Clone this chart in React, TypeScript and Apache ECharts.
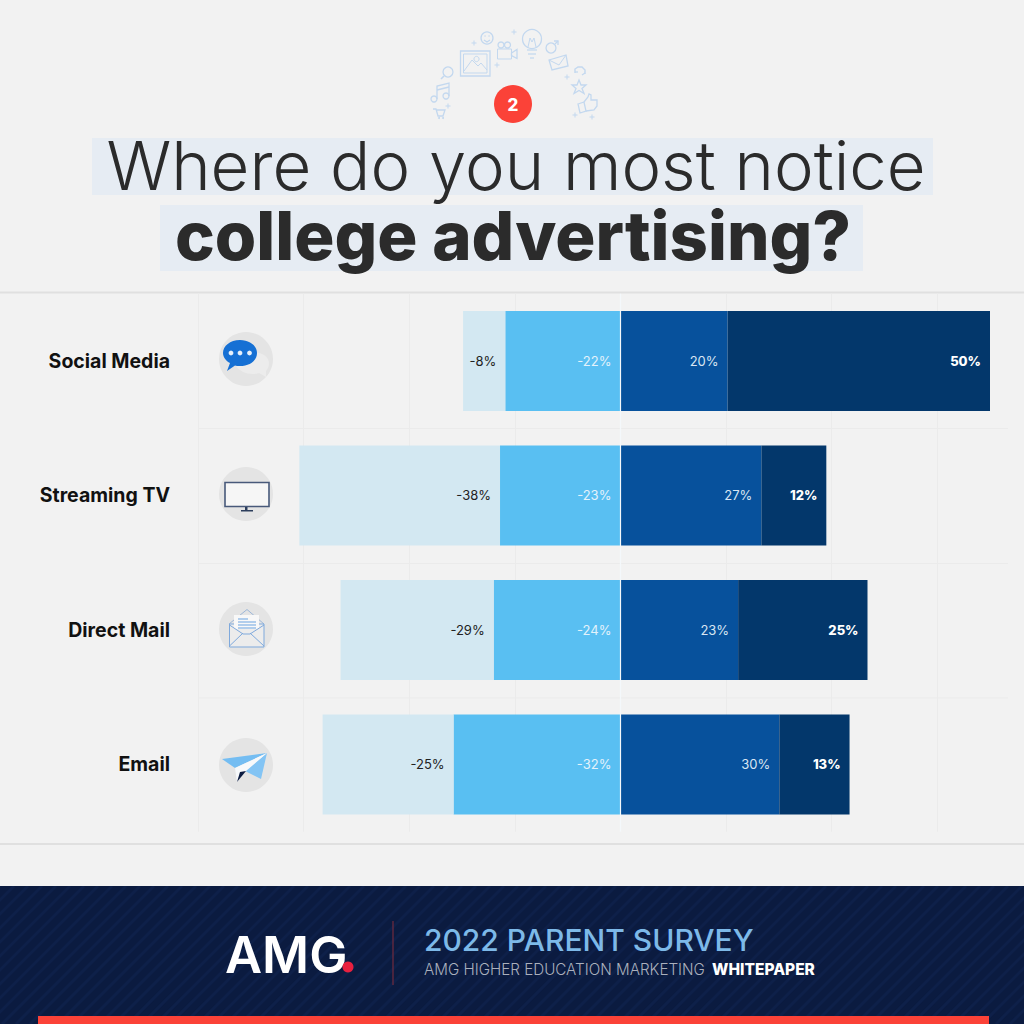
import React, { useEffect, useRef } from "react";
import * as echarts from "echarts";

const categories = ["Social Media", "Streaming TV", "Direct Mail", "Email"];
// Bar lengths
const outerNegative = [-8, -38, -29, -24.8];
const innerNegative = [-21.8, -22.8, -24, -31.6];
const innerPositive = [20.3, 26.7, 22.3, 30.1];
const outerPositive = [49.8, 12.3, 24.5, 13.3];
// Percentages as printed on the bars
const outerNegativeLabels = ["-8%", "-38%", "-29%", "-25%"];
const innerNegativeLabels = ["-22%", "-23%", "-24%", "-32%"];
const innerPositiveLabels = ["20%", "27%", "23%", "30%"];
const outerPositiveLabels = ["50%", "12%", "25%", "13%"];
const titleLine1 = "Where do you most notice";
const titleLine2 = "college advertising?";
const FONT = "Inter, 'Noto Sans', sans-serif";
const IC = "#c3d8ef";

echarts.graphic.registerShape("bubbleFront", echarts.graphic.extendPath("M240 340 C250 340 257 346 257 353 C257 361 249 366 240 366 C238 366 236 366 235 365.5 L227 371 L230 363 C226 361 223 357 223 353 C223 346 230 340 240 340 Z", {}));
echarts.graphic.registerShape("bubbleBack", echarts.graphic.extendPath("M252 352 C262 352 269 357 269 363 C269 366 268 369 266 371 L266 377 L259 373 C250 376 240 372 236 366 C246 366 254 360 252 352 Z", {}));

const line = (x1: number, y1: number, x2: number, y2: number, stroke: string, lineWidth = 1.3) => ({
  type: "line", shape: { x1, y1, x2, y2 }, style: { stroke, lineWidth }, silent: true,
});
const poly = (points: number[][], stroke: string, lineWidth = 1.3) => ({
  type: "polyline", shape: { points }, style: { stroke, lineWidth, fill: "none" }, silent: true,
});
const polygon = (points: number[][], fill: string, stroke = "none", lineWidth = 1) => ({
  type: "polygon", shape: { points }, style: { fill, stroke, lineWidth }, silent: true,
});
const circ = (cx: number, cy: number, r: number, fill: string, stroke = "none", lineWidth = 1.3) => ({
  type: "circle", shape: { cx, cy, r }, style: { fill, stroke, lineWidth }, silent: true,
});
const rect = (x: number, y: number, width: number, height: number, fill: string, stroke = "none", lineWidth = 1) => ({
  type: "rect", shape: { x, y, width, height }, style: { fill, stroke, lineWidth }, silent: true,
});
const txt = (text: string, x: number, y: number, fontSize: number, fontWeight: any, fill: string, textAlign = "left", lineHeight?: number) => ({
  type: "text", x, y, silent: true,
  style: { text, fontSize, fontWeight, fill, fontFamily: FONT, textAlign, textVerticalAlign: "middle", ...(lineHeight ? { lineHeight } : {}) },
});
const plus = (x: number, y: number) => [line(x - 2.5, y, x + 2.5, y, IC, 1), line(x, y - 2.5, x, y + 2.5, IC, 1)];

const arcIcons = [
  // cart
  poly([[433, 109], [436, 109], [438, 116], [443, 116], [445, 110], [436, 110]], IC),
  circ(439, 118, 1, IC), circ(443, 118, 1, IC),
  ...plus(448, 106),
  // music note
  circ(434, 99, 3, "none", IC), circ(446, 96, 3, "none", IC),
  poly([[437, 99], [437, 86], [449, 83], [449, 96]], IC), line(437, 90, 449, 87, IC),
  // magnifier
  circ(448, 72, 5, "none", IC), line(444, 76, 441, 79, IC, 1.6),
  ...plus(474, 43),
  // smile
  circ(487, 38, 6, "none", IC), poly([[484, 40], [487, 42], [490, 40]], IC),
  circ(485, 36, 0.7, IC), circ(489, 36, 0.7, IC),
  // picture
  rect(460.5, 51, 29.5, 25, "none", IC, 1.3), rect(463.5, 54, 23.5, 19, "none", IC, 1),
  poly([[464, 71], [472, 60], [478, 66], [481, 63], [487, 70]], IC, 1), circ(476.5, 59, 2.6, "none", IC, 1),
  // camera
  rect(497.5, 49, 14, 10, "none", IC), circ(501, 45, 3, "none", IC), circ(507.5, 45, 3, "none", IC),
  polygon([[511.5, 53], [517, 49.5], [517, 58.5], [511.5, 55.5]], "none", IC, 1.3),
  ...plus(514, 32), ...plus(497, 65),
  // bulb
  circ(532, 39, 9.5, "none", IC, 1.3),
  poly([[528, 47], [530, 38], [532, 42], [534, 38], [536, 47]], IC, 1),
  line(527, 50, 537, 50, IC), line(528, 54, 536, 54, IC), line(530, 58, 534, 58, IC),
  // gender
  circ(551, 48, 5, "none", IC), line(555, 44, 558, 41, IC), poly([[554, 41], [558, 41], [558, 45]], IC),
  // envelope
  polygon([[549, 60], [566, 55], [568, 66], [552, 70]], "none", IC, 1.3),
  poly([[549, 60], [559, 65], [566, 55]], IC, 1),
  ...plus(567, 77),
  // headset
  poly([[575, 73], [575, 69], [578, 67], [582, 67], [585, 70], [585, 74]], IC, 1.4),
  line(575, 72, 578, 72, IC), line(582, 75, 585, 73, IC),
  // star
  polygon([[579, 80], [581, 85], [586, 85], [582, 88.5], [584, 93.5], [579, 90.5], [574, 93.5], [576, 88.5], [572, 85], [577, 85]], "none", IC, 1.3),
  // thumb
  polygon([[578, 104], [584, 102], [586, 111], [580, 113]], "none", IC, 1.3),
  poly([[584, 102], [588, 97], [589, 94], [591, 95], [591, 100], [597, 100], [597, 106], [594, 110], [586, 111]], IC, 1.3),
  ...plus(575, 115), ...plus(592, 117),
];

const rowIcons = [
  // social media
  circ(246, 359, 27, "#e4e4e4"),
  { type: "bubbleBack", silent: true, style: { fill: "#ececec" } },
  { type: "bubbleFront", silent: true, style: { fill: "#1670d4" } },
  circ(231, 353, 2.4, "#e8f1fb"), circ(240, 353, 2.4, "#e8f1fb"), circ(249.5, 353, 2.4, "#e8f1fb"),
  // TV
  circ(246, 494, 27, "#e4e4e4"),
  rect(225, 482.5, 44, 24, "#f6f6f6", "#48597a", 1.6),
  rect(245, 507, 2.5, 3, "#2c3e5c"), rect(241, 510, 12, 1.5, "#2c3e5c"),
  // mail
  circ(246, 629, 27, "#e4e4e4"),
  poly([[229, 624], [247, 609.5], [264, 624]], "#9db7d8", 1),
  rect(229.5, 624, 34.5, 23, "#ececec", "#7fa9dc", 1),
  rect(234, 615, 25, 14, "#f8f8f8"),
  line(238, 619, 248, 619, "#6aa3e0", 1), line(238, 622, 256, 622, "#6aa3e0", 1), line(238, 625, 256, 625, "#6aa3e0", 1), line(238, 628, 256, 628, "#6aa3e0", 1),
  line(229.5, 646, 243, 633, "#7fa9dc", 1), line(264, 646, 250, 633, "#7fa9dc", 1), poly([[229.5, 625], [243, 634], [250, 634], [264, 625]], "#7fa9dc", 1),
  // plane
  circ(246, 765, 27, "#e4e4e4"),
  polygon([[222, 759], [267, 753], [235, 768]], "#74bdf2"),
  polygon([[267, 753], [261, 779], [245, 771]], "#83c4f4"),
  polygon([[267, 753], [235, 768], [237, 782], [246, 771]], "#f7f9fb"),
  polygon([[237, 782], [240, 772], [246, 771]], "#0b1b40"),
];

const footerStripes: any[] = [];
for (let x = -138; x < 1024; x += 14) {
  footerStripes.push(line(x, 1024, x + 138, 886, "#0e2049", 3));
}

const background = [
  rect(0, 0, 1024, 1024, "#f2f2f2"),
  ...arcIcons,
  circ(513, 104, 19, "#fb4238"),
  txt("2", 513, 104.5, 17, 800, "#ffffff", "center"),
  rect(92, 138, 841, 57, "#e6ecf3"),
  rect(160, 205, 703, 66, "#e6ecf3"),
  txt(titleLine1, 516, 165, 67, 300, "#2b2b2b", "center", 60),
  txt(titleLine2, 513, 235, 67, 800, "#2b2b2b", "center", 60),
  line(0, 292.5, 1024, 292.5, "#e0e0e0", 2),
  line(0, 844, 1024, 844, "#e0e0e0", 2),
  line(198, 428.5, 1008, 428.5, "#ebebeb", 1),
  line(198, 563.5, 1008, 563.5, "#ebebeb", 1),
  line(198, 698, 1008, 698, "#ebebeb", 1),
  ...rowIcons,
  rect(0, 886, 1024, 138, "#0b1b40"),
  ...footerStripes,
  rect(0, 884, 1024, 2, "#f2f2f2"),
  rect(38, 1016, 951, 8, "#fb4238"),
  txt("AMG", 225, 954, 51, 600, "#ffffff"),
  circ(348, 967, 5.5, "#e8203f"),
  line(393, 921, 393, 985, "#6b2a3f", 1.3),
  txt("2022 PARENT SURVEY", 424, 940, 30, 500, "#7db9e8"),
  txt("AMG HIGHER EDUCATION MARKETING", 424, 969, 15.2, 300, "#aab0bd"),
  txt("WHITEPAPER", 712, 969, 15.5, 800, "#ffffff"),
];

const barSeries = (name: string, data: number[], labels: string[], color: string, labelColor: string, weight: number) => ({
  name, type: "bar", stack: "total", data, barWidth: 100,
  itemStyle: { color },
  label: {
    show: true, position: "insideRight", distance: 9,
    formatter: (p: any) => labels[p.dataIndex],
    color: labelColor, fontSize: 13, fontWeight: weight, fontFamily: FONT,
  },
});

export default function App() {
  const ref = useRef<HTMLDivElement>(null);
  useEffect(() => {
    document.body.style.margin = "0";
    const chart = echarts.init(ref.current!, undefined, { renderer: "svg" });
    chart.setOption({
      animation: false,
      backgroundColor: "#f2f2f2",
      graphic: { elements: background },
      grid: { left: 198, top: 293.7, width: 792, height: 538, containLabel: false },
      xAxis: {
        type: "value", min: -80, max: 70, interval: 20,
        axisLabel: { show: false }, axisLine: { show: false }, axisTick: { show: false },
        splitLine: { show: true, showMaxLine: false, lineStyle: { color: "#ebebeb", width: 1 } },
      },
      yAxis: {
        type: "category", inverse: true, data: categories,
        axisLine: { show: false }, axisTick: { show: false },
        axisLabel: { margin: 28, fontFamily: FONT, fontSize: 19.5, fontWeight: 700, color: "#111111", align: "right" },
      },
      series: [
        barSeries("Inner negative", innerNegative, innerNegativeLabels, "#59bff2", "#e3f2fb", 400),
        barSeries("Outer negative", outerNegative, outerNegativeLabels, "#d3e8f2", "#222222", 400),
        {
          ...barSeries("Inner positive", innerPositive, innerPositiveLabels, "#07519c", "#d9e6f3", 400),
          markLine: {
            silent: true, symbol: "none", label: { show: false },
            lineStyle: { color: "#f4f8fb", width: 1.2, type: "solid" },
            data: [{ xAxis: 0 }],
          },
        },
        barSeries("Outer positive", outerPositive, outerPositiveLabels, "#03376b", "#ffffff", 800),
      ],
    });
    return () => chart.dispose();
  }, []);
  return <div ref={ref} style={{ width: 1024, height: 1024 }} />;
}
